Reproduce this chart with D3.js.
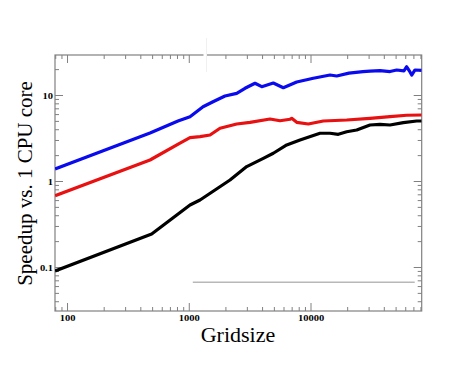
<!DOCTYPE html>
<html><head><meta charset="utf-8">
<script src="https://cdn.jsdelivr.net/npm/d3@7"></script>
<style>body{margin:0;background:#fff}svg{display:block}</style>
</head><body>
<script>
// Data (Gridsize, Speedup)
const blueX = [79, 476, 808, 1014, 1297, 1567, 1965, 2453, 2870, 3467, 3937, 4901, 5923, 7629, 10445, 14326, 16259, 20500, 26736, 30517, 36872, 44558, 50580, 58000, 61100, 64000, 67160, 71480, 81000];
const blueY = [1.40, 3.66, 5.05, 5.67, 7.41, 8.47, 9.87, 10.6, 12.13, 13.87, 12.66, 13.98, 12.32, 14.35, 15.85, 17.31, 16.86, 18.2, 18.91, 19.2, 19.43, 19.0, 19.80, 19.3, 21.6, 19.5, 17.3, 19.8, 19.6];
const redX = [79, 476, 839, 1014, 1226, 1481, 1789, 2453, 3155, 4605, 5565, 6722, 6942, 7629, 9502, 12618, 19646, 30517, 44558, 61100, 81000];
const redY = [0.684, 1.778, 2.80, 3.23, 3.32, 3.47, 4.16, 4.66, 4.88, 5.33, 5.09, 5.30, 5.43, 4.88, 4.66, 5.05, 5.19, 5.43, 5.67, 5.89, 5.93];
const blackX = [79, 491, 1014, 1226, 2161, 2964, 4057, 4901, 6317, 8122, 11855, 14326, 16757, 19646, 23740, 30517, 36872, 44558, 57300, 73820, 81000];
const blackY = [0.091, 0.245, 0.533, 0.61, 1.04, 1.49, 1.86, 2.13, 2.66, 3.04, 3.64, 3.64, 3.54, 3.79, 3.97, 4.54, 4.62, 4.54, 4.83, 5.05, 5.05];
const refX = [1069, 71100];
const refY = [0.0673, 0.0673];
const xTickLabels = ["100", "1000", "10000"];
const yTickLabels = ["0.1", "1", "10"];

const W = 474, H = 366;
const L = 55, R = 421.7, T = 55, B = 311;
const svg = d3.select("body").append("svg").attr("width", W).attr("height", H);
const x = d3.scaleLog().domain([78.9, 81140]).range([L, R]);
const y = d3.scaleLog().domain([0.0312, 29.58]).range([B, T]);

svg.append("defs").append("clipPath").attr("id", "clip")
  .append("rect").attr("x", L).attr("y", T).attr("width", R - L).attr("height", B - T);

const axisCol = "#808080";
function minorTicks(domain) {
  const out = [];
  for (let e = -3; e <= 6; e++) for (let m = 1; m <= 9; m++) {
    const v = m * Math.pow(10, e);
    if (v >= domain[0] && v <= domain[1]) out.push(v);
  }
  return out;
}
const xt = minorTicks(x.domain()), yt = minorTicks(y.domain());
const isMajor = v => Math.abs(Math.log10(v) - Math.round(Math.log10(v))) < 1e-9;

const g = svg.append("g");
xt.forEach(v => {
  const len = isMajor(v) ? 8 : 4, px = x(v);
  g.append("line").attr("x1", px).attr("x2", px).attr("y1", B).attr("y2", B - len).attr("stroke", axisCol).attr("stroke-width", 1);
  g.append("line").attr("x1", px).attr("x2", px).attr("y1", T).attr("y2", T + len).attr("stroke", axisCol).attr("stroke-width", 1);
});
yt.forEach(v => {
  const len = isMajor(v) ? 8 : 4, py = y(v);
  g.append("line").attr("x1", L).attr("x2", L + len).attr("y1", py).attr("y2", py).attr("stroke", axisCol).attr("stroke-width", 1);
  g.append("line").attr("x1", R).attr("x2", R - len).attr("y1", py).attr("y2", py).attr("stroke", axisCol).attr("stroke-width", 1);
});
g.append("rect").attr("x", L).attr("y", T).attr("width", R - L).attr("height", B - T)
  .attr("fill", "none").attr("stroke", axisCol).attr("stroke-width", 1.2);

// tick labels (slightly squashed bold serif)
xTickLabels.forEach(t => {
  svg.append("text").attr("transform", `translate(${x(+t)},321) scale(1,0.75)`).attr("text-anchor", "middle")
    .attr("font-family", "Liberation Serif, serif").attr("font-weight", "bold").attr("font-size", 10.5).text(t);
});
yTickLabels.forEach(t => {
  svg.append("text").attr("transform", `translate(53,${y(+t) + 3.8}) scale(1,0.75)`).attr("text-anchor", "end")
    .attr("font-family", "Liberation Serif, serif").attr("font-weight", "bold").attr("font-size", 10.5).text(t);
});

// axis titles
svg.append("text").attr("x", 238).attr("y", 341.5).attr("text-anchor", "middle")
  .attr("font-family", "Liberation Serif, serif").attr("font-size", 22).text("Gridsize");
svg.append("text").attr("transform", "translate(31.5,183.5) rotate(-90)").attr("text-anchor", "middle")
  .attr("font-family", "Liberation Serif, serif").attr("font-size", 21).text("Speedup vs. 1 CPU core");

// series
const line = d3.line().x(d => x(d[0])).y(d => y(d[1]));
const plot = svg.append("g").attr("clip-path", "url(#clip)");
plot.append("path").datum(d3.zip(refX, refY)).attr("d", line).attr("fill", "none").attr("stroke", "#b8b8b8").attr("stroke-width", 1.5);
[[blackX, blackY, "#000"], [redX, redY, "#e81010"], [blueX, blueY, "#0a0aee"]].forEach(([xs, ys, c]) => {
  plot.append("path").datum(d3.zip(xs, ys)).attr("d", line).attr("fill", "none")
    .attr("stroke", c).attr("stroke-width", 3.2).attr("stroke-linejoin", "round");
});

// small break artifact on top axis
svg.append("line").attr("x1", 205).attr("x2", 205).attr("y1", 38).attr("y2", 72).attr("stroke", "#fff").attr("stroke-width", 3);
svg.append("line").attr("x1", 206.5).attr("x2", 206.5).attr("y1", 38).attr("y2", 72).attr("stroke", "#f0f0f0").attr("stroke-width", 1);
</script>
</body></html>
